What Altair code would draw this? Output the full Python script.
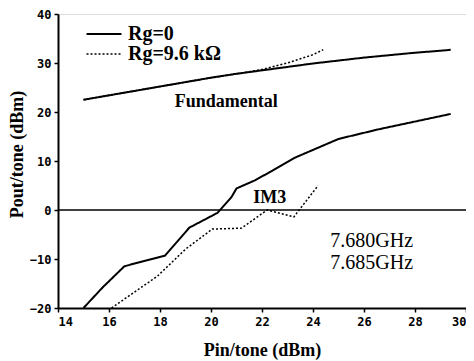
import altair as alt
import pandas as pd

# Fundamental, Rg=0
fund0_x = [15, 16, 17, 18, 19, 20, 21, 22, 23, 24, 25, 26, 27, 28, 29, 29.4]
fund0_y = [22.5, 23.4, 24.3, 25.2, 26.1, 27.0, 27.8, 28.5, 29.2, 29.9, 30.5, 31.1, 31.6, 32.1, 32.5, 32.7]
# Fundamental, Rg=9.6k
fund1_x = [15, 16, 17, 18, 19, 20, 21, 21.5, 22, 23, 24, 24.4]
fund1_y = [22.5, 23.4, 24.3, 25.2, 26.1, 27.0, 27.8, 28.2, 28.7, 30.0, 31.7, 32.7]
# IM3, Rg=0
im0_x = [15.0, 15.75, 16.6, 17.3, 18.2, 19.15, 20.25, 20.8, 21.0, 21.7, 22.4, 23.3, 25.0, 26.6, 29.4]
im0_y = [-20, -15.8, -11.5, -10.5, -9.3, -3.6, -0.6, 2.6, 4.4, 6.0, 8.0, 10.7, 14.5, 16.5, 19.6]
# IM3, Rg=9.6k
im1_x = [16.1, 17.9, 19.0, 20.05, 21.2, 22.2, 23.25, 24.2]
im1_y = [-20, -13.5, -8.0, -3.9, -3.7, 0.0, -1.4, 5.0]

series = ["Rg=0", "Rg=9.6 kΩ"]

rows = []
for xs, ys, s, c in [(fund0_x, fund0_y, series[0], "F0"), (fund1_x, fund1_y, series[1], "F1"),
                     (im0_x, im0_y, series[0], "I0"), (im1_x, im1_y, series[1], "I1")]:
    for i, (x, y) in enumerate(zip(xs, ys)):
        rows.append({"x": x, "y": y, "series": s, "curve": c, "order": i})
df = pd.DataFrame(rows)

curve_labels = ["Fundamental", "IM3"]
curve_lx = [20.6, 22.3]
curve_ly = [22.0, 2.4]
freq_labels = ["7.680GHz", "7.685GHz"]
freq_lx = [26.3, 26.3]
freq_ly = [-6.4, -10.8]

xsc = alt.Scale(domain=[14, 30], nice=False, zero=False)
ysc = alt.Scale(domain=[-20, 40], nice=False, zero=False)

common = dict(grid=False, labelFont="DejaVu Sans Mono", labelFontWeight="bold", labelFontSize=12,
              titleFont="Liberation Serif", titleFontWeight="bold", titleFontSize=18,
              tickSize=4, domainWidth=2, domainColor="black", tickColor="black", tickWidth=1.5,
              labelColor="black", titleColor="black")
xax = alt.Axis(values=list(range(14, 31, 2)), title="Pin/tone (dBm)", labelPadding=4,
               titlePadding=14, **common)
yax = alt.Axis(values=list(range(-20, 41, 10)), title="Pout/tone (dBm)", labelPadding=3,
               titleX=-32, titleY=140, **common)

lines = alt.Chart(df).mark_line(color="black").encode(
    x=alt.X("x:Q", scale=xsc, axis=xax),
    y=alt.Y("y:Q", scale=ysc, axis=yax),
    detail="curve:N",
    order="order:Q",
    strokeDash=alt.StrokeDash("series:N", scale=alt.Scale(domain=series, range=[[1, 0], [2, 2]]),
                              legend=alt.Legend(title=None, orient="none", legendX=36, legendY=10,
                                                symbolType="M-2.33,0H2.33", symbolSize=225,
                                                symbolStrokeWidth=2, symbolStrokeColor="black",
                                                symbolFillColor="transparent",
                                                labelFont="Liberation Serif", labelFontSize=20,
                                                labelFontWeight="bold", labelColor="black",
                                                labelOffset=14, rowPadding=0, padding=0)),
    strokeWidth=alt.StrokeWidth("series:N", scale=alt.Scale(domain=series, range=[2, 1.5]), legend=None),
)

zero = alt.Chart(pd.DataFrame({"y": [0]})).mark_rule(color="black", strokeWidth=1.5).encode(
    y=alt.Y("y:Q", scale=ysc))

t1 = alt.Chart(pd.DataFrame({"t": curve_labels, "x": curve_lx, "y": curve_ly})).mark_text(
    font="Liberation Serif", fontSize=18, fontWeight="bold", color="black").encode(
    x=alt.X("x:Q", scale=xsc), y=alt.Y("y:Q", scale=ysc), text="t:N")

t2 = alt.Chart(pd.DataFrame({"t": freq_labels, "x": freq_lx, "y": freq_ly})).mark_text(
    font="Liberation Serif", fontSize=20, color="black").encode(
    x=alt.X("x:Q", scale=xsc), y=alt.Y("y:Q", scale=ysc), text="t:N")

chart = alt.layer(zero, lines, t1, t2).properties(
    width=408, height=294,
    autosize=alt.AutoSizeParams(type="none"),
    padding={"left": 50, "top": 6, "right": 0, "bottom": 52},
).configure_view(stroke="black", strokeWidth=2).configure(background="white")

chart.save("out.html", embed_options={"renderer": "svg", "actions": False})
